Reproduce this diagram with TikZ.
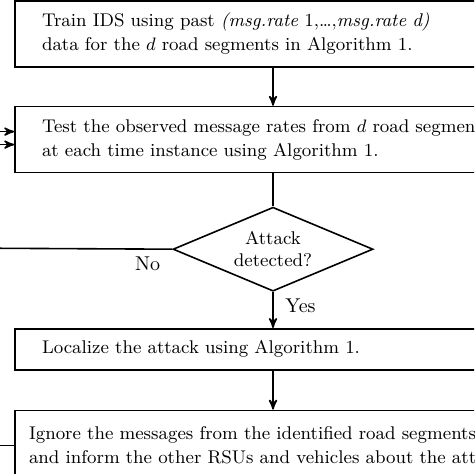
\documentclass[tikz,border=0pt]{standalone}
\usepackage{tikz}
\usetikzlibrary{arrows}
\usetikzlibrary{positioning,shapes,calc}
\tikzstyle{block} = [draw, rectangle, line width=0.8pt, minimum width=258pt, text width=231pt, align=left, inner xsep=13.5pt, minimum height=33pt, font=\fontsize{9.2}{12}\selectfont]
\tikzstyle{block_short} = [block, minimum height=20.5pt]
\tikzstyle{block_wide} = [block, inner xsep=7pt, text width=244pt, minimum height=35pt]
\tikzstyle{decision} = [draw, diamond, aspect=2.4, line width=0.8pt, inner sep=0pt, minimum width=100pt, minimum height=42pt, align=center, font=\fontsize{9.2}{11}\selectfont]
\tikzstyle{arrow_flow} = [->, draw=black, line width=0.8pt]
\tikzstyle{line_flow} = [-, draw=black, line width=0.8pt]
\begin{document}
\begin{tikzpicture}[> = stealth', x=0.5pt, y=-0.5pt, node distance=19pt]
      \useasboundingbox (0,0) rectangle (474,474);
      \clip (0,0) rectangle (474,474);

      \node[block] (train) at (273,34) {Train IDS using past \textit{(msg.rate} 1,\ldots,\textit{msg.rate d)}\\ data for the $d$ road segments in Algorithm 1.};
      \node[block] (test) [below=of train] {Test the observed message rates from $d$ road segments\\ at each time instance using Algorithm 1.};
      \node[decision] (detect) [below=16.5pt of test] {Attack\\ detected?};
      \node[block_short] (localize) [below=18pt of detect] {Localize the attack using Algorithm 1.};
      \node[block_wide] (ignore) [below=19.5pt of localize] {Ignore the messages from the identified road segments\\ and inform the other RSUs and vehicles about the attack.};

      % Loose ends
      \coordinate (back_top) at ($(test.west)+(-20,-8)$);
      \coordinate (back_bot) at ($(test.west)+(-20,5)$);
      \coordinate (no_end) at ($(detect.west)+(-190,-1)$);
      \coordinate (ignore_end) at ($(ignore.west)+(-20,0)$);

      % Flow arrows
      \path[arrow_flow] (train) -- (test);
      \path[line_flow] (test) -- (detect);
      \path[arrow_flow] (detect) -- node[right=2.5pt, pos=0.38] (yes) {Yes} (localize);
      \path[arrow_flow] (localize) -- (ignore);

      % Feedback lines
      \path[line_flow] (detect.west) -- node[below, pos=0.13] (no) {No} (no_end);
      \path[line_flow] (ignore_end) -- (ignore.west);
      \path[arrow_flow] (back_top) -- (back_top -| test.west);
      \path[arrow_flow] (back_bot) -- (back_bot -| test.west);

\end{tikzpicture}
\end{document}
